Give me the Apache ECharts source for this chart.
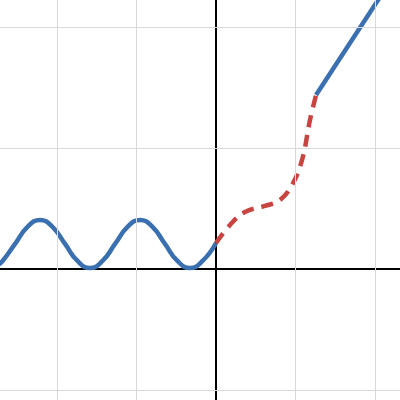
<!DOCTYPE html>
<html>
<head>
<meta charset="utf-8">
<script src="https://cdn.jsdelivr.net/npm/echarts@6/dist/echarts.min.js"></script>
<style>html,body{margin:0;padding:0;background:#fff}#chart{width:400px;height:400px}</style>
</head>
<body>
<div id="chart"></div>
<script>
// points, in grid units
const waveX = [-2.75, -2.685, -2.528, -2.371, -2.214, -2.057, -1.899, -1.742, -1.585, -1.428, -1.270, -1.113, -0.956, -0.799, -0.642, -0.485, -0.327, -0.170, 0]
const waveY = [0.03, 0.066, 0.207, 0.348, 0.405, 0.348, 0.207, 0.066, 0.008, 0.066, 0.207, 0.348, 0.405, 0.348, 0.207, 0.066, 0.008, 0.066, 0.215]
const bendX = [0, 0.176, 0.365, 0.616, 0.805, 0.956, 1.082, 1.182, 1.258]
const bendY = [0.215, 0.364, 0.471, 0.521, 0.570, 0.694, 0.901, 1.231, 1.438]
const rampX = [1.258, 2.4]
const rampY = [1.438, 2.587]
const gridXs = [-2, -1, 1, 2]
const gridYs = [-1, 1, 2]

const zip = (xs, ys) => xs.map((x, i) => [x, ys[i]])
const chart = echarts.init(document.getElementById('chart'))
const axisStyle = {
  axisLine: { onZero: true, lineStyle: { color: '#000', width: 2 } },
  axisTick: { show: false },
  axisLabel: { show: false },
  splitLine: { show: false }
}
chart.setOption({
  animation: false,
  grid: { left: 0, right: 0, top: 0, bottom: 0 },
  xAxis: Object.assign({ type: 'value', min: -2.717, max: 2.314 }, axisStyle),
  yAxis: Object.assign({ type: 'value', min: -1.083, max: 2.223 }, axisStyle),
  series: [
    { type: 'line', data: [], silent: true,
      markLine: { symbol: 'none', silent: true, label: { show: false },
        lineStyle: { color: '#d9d9d9', width: 1, type: 'solid' },
        data: gridXs.map(x => ({ xAxis: x })).concat(gridYs.map(y => ({ yAxis: y }))) } },
    { type: 'line', data: zip(waveX, waveY), smooth: true, showSymbol: false,
      lineStyle: { color: '#3a6fb0', width: 4.5 } },
    { type: 'line', data: zip(bendX, bendY), smooth: 0.4, showSymbol: false,
      lineStyle: { color: '#c74440', width: 4.5, type: [12, 8] } },
    { type: 'line', data: zip(rampX, rampY), showSymbol: false,
      lineStyle: { color: '#3a6fb0', width: 4.5 } }
  ]
})
</script>
</body>
</html>
